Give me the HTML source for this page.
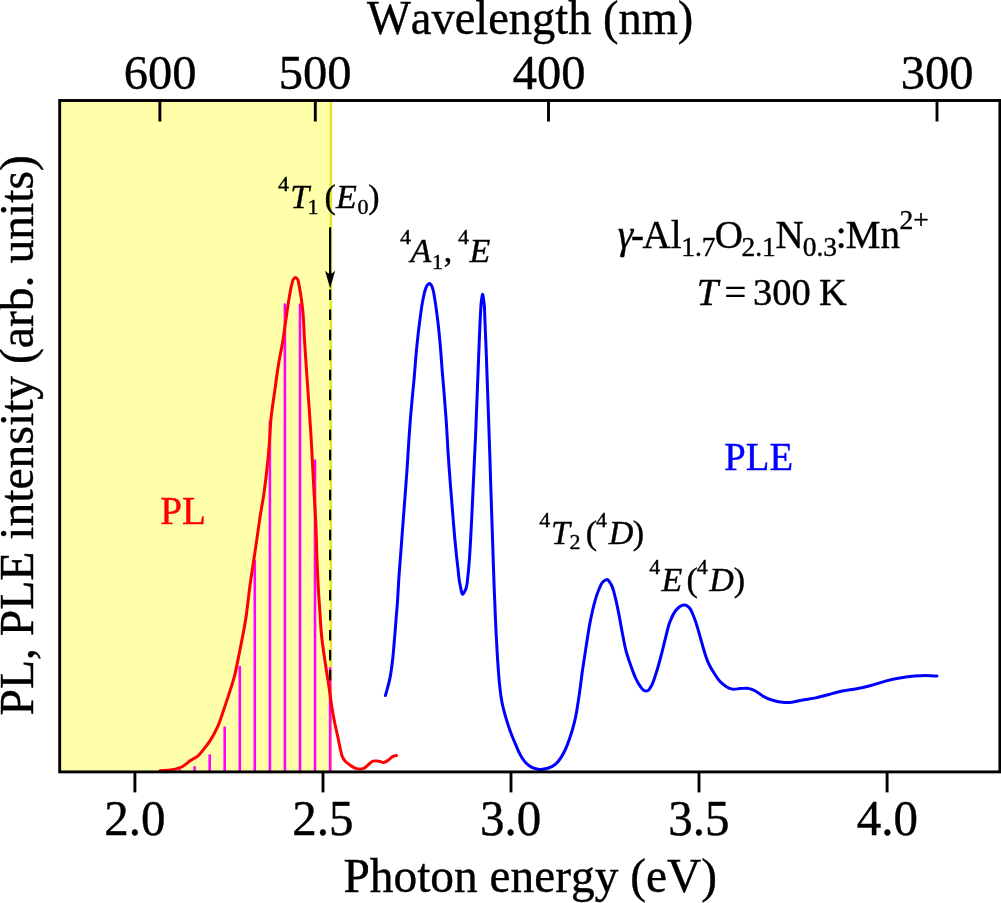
<!DOCTYPE html>
<html><head><meta charset="utf-8"><title>PL, PLE spectra</title>
<style>
html,body{margin:0;padding:0;background:#fff}
svg{display:block}
text{font-family:"Liberation Serif",serif;fill:#000;stroke:#000;stroke-width:.4px;font-kerning:none}
.i{font-style:italic}
</style></head><body>
<svg width="1001" height="903" viewBox="0 0 1001 903">
<rect width="1001" height="903" fill="#fff"/>
<rect x="59.7" y="100.5" width="271.8" height="671.4" fill="#ffffaa"/>
<line x1="330.9" y1="100.5" x2="330.9" y2="771.9" stroke="#e6e61e" stroke-width="2.5"/>
<g stroke="#ff00ff" stroke-width="2.6"><line x1="179.6" y1="769.4" x2="179.6" y2="771.9"/><line x1="194.6" y1="766.2" x2="194.6" y2="771.9"/><line x1="209.7" y1="754.4" x2="209.7" y2="771.9"/><line x1="224.7" y1="726.5" x2="224.7" y2="771.9"/><line x1="239.8" y1="665.9" x2="239.8" y2="771.9"/><line x1="254.8" y1="560.0" x2="254.8" y2="771.9"/><line x1="269.9" y1="420.8" x2="269.9" y2="771.9"/><line x1="284.9" y1="303.4" x2="284.9" y2="771.9"/><line x1="300.0" y1="303.4" x2="300.0" y2="771.9"/><line x1="315.0" y1="459.6" x2="315.0" y2="771.9"/><line x1="330.1" y1="667.3" x2="330.1" y2="771.9"/></g>
<line x1="330.1" y1="289.6" x2="330.1" y2="681.6" stroke="#000" stroke-width="2.2" stroke-dasharray="10.5 9.52"/>
<line x1="330.1" y1="227.3" x2="330.1" y2="277" stroke="#000" stroke-width="2.2"/>
<path d="M330.1 288.6L325.1 270.8Q330.1 276.5 335.1 270.8Z" fill="#000"/>
<path d="M160.0 770.8C164.0 770.5 168.1 770.6 172.0 769.8C175.8 769.0 179.7 768.1 183.0 766.2C185.5 764.8 187.6 762.5 190.0 760.8C192.6 759.0 195.6 757.8 198.0 755.8C200.3 753.8 202.1 751.3 204.0 748.9C206.1 746.3 208.2 743.7 210.0 740.9C213.1 736.2 215.7 731.1 218.0 725.9C220.4 720.4 222.0 714.6 224.0 708.9C226.1 702.9 228.1 696.9 230.0 690.9C231.4 686.6 232.8 682.3 234.0 677.9C235.6 672.0 236.7 665.9 238.0 659.9C239.5 652.6 240.9 645.3 242.3 638.0C243.6 631.3 244.9 624.7 245.9 618.0C246.8 612.0 247.5 606.0 248.2 600.0C248.6 596.6 249.0 593.2 249.4 589.8C250.2 583.2 251.3 576.5 252.3 569.9C253.5 561.9 254.7 553.9 255.9 545.9C257.3 536.6 258.5 527.2 259.9 517.9C261.1 509.9 262.7 501.9 263.9 493.9C265.5 482.6 266.8 471.3 267.9 460.0C268.6 453.3 269.1 446.5 269.6 439.8C270.1 433.1 270.3 426.4 270.9 419.8C271.8 409.8 273.5 399.9 274.9 389.9C276.2 380.6 277.3 371.2 278.9 361.9C279.9 355.9 281.3 349.9 282.3 343.9C283.7 335.9 284.7 327.9 285.9 319.9C287.1 311.9 288.0 303.9 289.5 296.0C290.2 292.0 290.7 287.9 291.9 284.0C292.4 282.2 292.4 280.0 293.7 278.8C294.2 278.3 294.9 277.6 295.5 277.6C296.1 277.6 296.9 278.4 297.4 279.0C298.6 280.3 298.5 282.7 298.9 284.5C299.8 288.3 300.3 292.2 300.9 296.0C301.7 301.3 302.4 306.6 302.9 311.9C303.8 321.2 303.9 330.6 304.5 339.9C305.0 348.6 305.6 357.2 306.2 365.9C306.9 375.9 307.6 385.9 308.3 395.9C309.1 407.6 310.0 419.3 310.7 431.0C311.3 440.7 311.8 450.3 312.3 460.0C312.8 470.0 313.4 479.9 313.9 489.9C314.6 501.9 315.4 513.9 315.9 525.9C316.4 537.2 316.5 548.6 317.0 559.9C317.4 569.9 317.8 579.8 318.4 589.8C318.8 597.2 319.4 604.6 319.9 612.0C320.4 619.3 320.7 626.7 321.4 634.0C322.3 643.8 323.9 653.6 325.3 663.3C326.4 670.5 327.6 677.8 328.7 685.0C329.8 692.2 330.6 699.5 331.8 706.7C332.7 712.4 333.8 718.1 334.9 723.7C335.9 728.4 337.0 733.0 338.0 737.7C338.9 741.8 339.6 746.0 340.6 750.1C341.1 752.2 341.4 754.4 342.2 756.3C342.9 757.9 343.9 759.5 345.0 760.9C346.3 762.4 348.0 763.6 349.6 764.8C351.5 766.2 353.6 767.8 355.8 768.4C358.2 769.1 361.3 769.3 363.6 768.4C365.3 767.7 366.7 766.0 368.2 764.8C369.8 763.6 371.1 761.8 372.9 761.2C374.7 760.6 377.1 760.9 379.1 761.2C380.7 761.4 382.2 762.6 383.7 762.5C385.6 762.4 387.4 760.5 389.1 759.4C390.7 758.3 392.0 756.6 393.8 756.0C394.6 755.7 395.5 755.7 396.4 755.5" fill="none" stroke="#ff0000" stroke-width="3" stroke-linejoin="round" stroke-linecap="round"/>
<path d="M385.4 695.5C385.9 693.6 386.5 691.8 387.0 689.9C388.1 685.9 389.2 681.9 390.0 677.9C391.2 672.0 391.9 665.9 392.6 659.9C393.4 653.3 393.8 646.6 394.4 640.0C395.0 633.3 395.5 626.7 396.0 620.0C396.5 613.3 397.2 606.7 397.6 600.0C397.9 595.3 398.1 590.5 398.4 585.8C399.1 573.8 400.1 561.9 401.0 549.9C402.0 536.6 403.0 523.2 404.0 509.9C405.0 496.6 406.1 483.3 407.0 470.0C407.9 456.7 408.6 443.3 409.6 430.0C410.0 423.9 410.5 417.9 411.0 411.8C411.9 401.2 413.0 390.5 414.0 379.9C415.0 368.6 415.7 357.2 416.9 345.9C417.8 337.2 418.7 328.5 419.9 319.9C420.8 313.3 421.5 306.6 422.9 300.0C423.8 296.0 424.2 291.7 425.9 288.0C426.4 286.8 426.8 285.4 427.7 284.6C428.2 284.2 428.8 283.6 429.3 283.6C429.8 283.6 430.5 284.2 430.9 284.6C431.8 285.4 432.0 286.8 432.5 288.0C434.0 291.8 434.2 296.0 434.9 300.0C436.2 307.3 437.0 314.6 437.9 321.9C438.9 329.9 439.6 337.9 440.3 345.9C441.1 354.6 441.6 363.2 442.3 371.9C442.9 379.9 443.7 387.9 444.3 395.9C445.0 404.6 445.7 413.3 446.3 422.0C447.1 433.3 447.5 444.7 448.3 456.0C449.0 466.0 449.7 475.9 450.5 485.9C451.3 495.9 452.1 505.9 452.9 515.9C453.7 525.9 454.5 535.9 455.5 545.9C456.2 553.2 457.0 560.6 457.9 567.9C458.6 573.9 458.8 580.0 460.3 585.8C461.0 588.6 461.6 594.8 462.9 594.2C463.6 593.9 464.8 591.3 465.5 589.8C467.5 585.6 467.3 580.5 467.9 575.8C468.7 569.9 469.0 563.9 469.5 557.9C470.1 549.9 470.5 541.9 470.9 533.9C471.4 524.6 471.9 515.2 472.3 505.9C472.7 497.2 473.1 488.6 473.5 479.9C473.9 471.3 474.3 462.6 474.7 454.0C475.0 447.7 475.3 441.3 475.6 435.0C475.9 427.3 476.2 419.5 476.5 411.8C477.0 399.8 477.4 387.9 477.9 375.9C478.4 363.9 478.8 351.9 479.3 339.9C479.7 331.2 480.0 322.6 480.5 313.9C480.8 309.3 480.8 304.6 481.5 300.0C481.8 298.1 482.2 294.7 482.5 294.4C483.0 294.0 483.5 299.5 483.9 302.0C484.8 307.9 484.6 313.9 484.9 319.9C485.3 327.9 485.6 335.9 485.9 343.9C486.3 353.2 486.6 362.6 486.9 371.9C487.2 381.2 487.6 390.6 487.9 399.9C488.2 409.3 488.6 418.6 488.9 428.0C489.2 438.0 489.6 448.0 489.9 458.0C490.2 468.6 490.6 479.3 490.9 489.9C491.2 499.9 491.6 509.9 491.9 519.9C492.2 529.9 492.6 539.9 492.9 549.9C493.2 559.9 493.5 569.8 493.9 579.8C494.1 586.5 494.4 593.3 494.7 600.0C495.0 606.7 495.2 613.3 495.5 620.0C495.8 626.7 496.1 633.3 496.5 640.0C496.9 648.0 497.3 655.9 497.9 663.9C498.4 670.6 498.8 677.3 499.5 683.9C500.1 689.9 500.7 696.0 501.9 701.9C502.9 707.3 504.4 712.6 505.9 717.9C507.4 723.0 509.1 728.0 510.9 732.9C512.4 736.9 514.1 740.9 515.8 744.9C517.4 748.6 518.8 752.4 520.8 755.8C522.3 758.2 523.8 760.8 525.8 762.8C527.5 764.6 529.6 766.3 531.8 767.4C534.2 768.6 537.1 769.3 539.8 769.4C542.4 769.5 545.3 769.0 547.8 768.2C550.2 767.4 552.8 766.3 554.8 764.8C557.2 763.0 559.1 760.3 560.8 757.8C562.8 754.9 564.3 751.7 565.8 748.5C567.3 745.3 568.4 741.9 569.6 738.5C570.7 735.4 571.7 732.2 572.6 729.0C573.6 725.5 574.5 722.0 575.3 718.4C576.9 711.2 577.9 703.7 579.0 696.4C580.4 687.5 581.3 678.5 582.6 669.6C583.8 661.5 585.0 653.4 586.3 645.3C587.5 638.0 588.5 630.6 589.9 623.3C591.0 617.6 592.1 611.9 593.6 606.3C595.0 601.0 596.3 595.5 598.5 590.5C599.8 587.6 600.6 583.9 602.9 581.9C604.1 580.9 605.8 579.4 607.0 579.5C608.6 579.6 610.0 582.6 611.1 584.4C613.3 587.9 613.9 592.4 615.0 596.5C616.8 602.9 617.9 609.5 619.2 616.0C620.5 622.5 621.5 629.0 622.8 635.5C624.0 641.2 624.9 647.0 626.5 652.6C627.9 657.5 629.6 662.4 631.4 667.2C632.9 671.3 634.2 675.5 636.2 679.4C637.6 682.2 639.1 685.1 641.1 687.5C641.9 688.4 642.6 689.6 643.6 690.2C644.3 690.6 645.2 691.1 646.0 691.1C646.8 691.1 647.7 690.6 648.4 690.2C649.6 689.4 650.1 687.9 650.9 686.7C653.2 683.0 654.3 678.6 655.7 674.5C657.6 668.9 659.1 663.2 660.6 657.5C662.4 651.0 663.8 644.5 665.5 638.0C667.0 632.3 668.0 626.3 670.3 620.9C671.7 617.6 673.0 614.0 675.2 611.2C676.6 609.4 678.1 607.3 680.1 606.3C681.5 605.6 683.5 604.9 685.0 605.1C686.4 605.3 687.9 606.5 689.1 607.5C691.4 609.5 692.2 613.1 693.5 616.0C695.6 620.7 696.9 625.8 698.4 630.7C700.1 636.3 701.5 642.1 703.2 647.7C704.7 652.6 706.0 657.6 708.1 662.3C709.8 666.1 711.9 669.8 714.2 673.3C716.1 676.2 717.9 679.3 720.3 681.8C722.1 683.6 724.2 685.4 726.4 686.7C728.3 687.8 730.4 688.7 732.5 689.1C734.8 689.5 737.4 688.8 739.8 688.6C742.2 688.5 744.7 687.9 747.1 688.2C749.2 688.5 751.3 689.1 753.2 689.9C755.6 690.9 757.8 692.5 760.0 694.0C761.1 694.7 762.1 695.5 763.2 696.2C766.1 698.0 769.4 699.3 772.7 700.3C775.8 701.3 779.1 701.9 782.3 702.2C785.5 702.5 788.7 702.5 791.9 702.2C795.1 701.9 798.3 700.9 801.5 700.3C806.3 699.4 811.1 698.9 815.9 697.9C819.9 697.0 823.9 695.8 827.9 694.8C832.7 693.5 837.4 692.0 842.3 691.0C847.0 690.0 851.9 689.7 856.7 688.8C861.5 687.9 866.3 686.8 871.0 685.5C875.8 684.2 880.5 682.4 885.4 681.1C890.1 679.9 895.0 678.8 899.8 678.0C904.6 677.2 909.4 676.5 914.2 676.1C918.2 675.8 922.2 675.6 926.2 675.6C929.8 675.6 933.4 675.9 937.0 676.1" fill="none" stroke="#0000ff" stroke-width="3" stroke-linejoin="round" stroke-linecap="round"/>
<g stroke="#000" stroke-width="2.9"><line x1="134.9" y1="771.9" x2="134.9" y2="792.4"/><line x1="323.0" y1="771.9" x2="323.0" y2="792.4"/><line x1="511.0" y1="771.9" x2="511.0" y2="792.4"/><line x1="699.0" y1="771.9" x2="699.0" y2="792.4"/><line x1="887.1" y1="771.9" x2="887.1" y2="792.4"/><line x1="159.9" y1="100.5" x2="159.9" y2="121.5"/><line x1="315.3" y1="100.5" x2="315.3" y2="121.5"/><line x1="548.5" y1="100.5" x2="548.5" y2="121.5"/><line x1="937.0" y1="100.5" x2="937.0" y2="121.5"/></g>
<rect x="59.7" y="100.5" width="940.2" height="671.4" fill="none" stroke="#000" stroke-width="2.9"/>
<text transform="translate(366.94 33.8) scale(0.9580 1)" font-size="48.5" style="fill:#000;stroke:#000">Wavelength (nm)</text>
<text transform="translate(343.41 892.4) scale(0.9871 1)" font-size="48" style="fill:#000;stroke:#000">Photon energy (eV)</text>
<text transform="translate(160.26 524.0) scale(0.9919 1)" font-size="39.5" style="fill:#ff0000;stroke:#ff0000">PL</text>
<text transform="translate(724.26 470.0) scale(0.9874 1)" font-size="39.2" style="fill:#0000ff;stroke:#0000ff">PLE</text>
<text transform="translate(33.4 715.48) rotate(-90) scale(0.9811 1)" font-size="48.5">PL, PLE intensity (arb. units)</text>
<text transform="translate(104.17 835.2) scale(1 1.02)" font-size="49">2.0</text>
<text transform="translate(292.21 835.2) scale(1 1.02)" font-size="49">2.5</text>
<text transform="translate(480.12 835.2) scale(1 1.02)" font-size="49">3.0</text>
<text transform="translate(668.16 835.2) scale(1 1.02)" font-size="49">3.5</text>
<text transform="translate(856.83 835.2) scale(1 1.02)" font-size="49">4.0</text>
<text transform="translate(123.79 89.2) scale(1 1.02)" font-size="48.5">600</text>
<text transform="translate(278.84 89.2) scale(1 1.02)" font-size="48.5">500</text>
<text transform="translate(512.85 89.2) scale(1 1.02)" font-size="48.5">400</text>
<text transform="translate(900.79 89.2) scale(1 1.02)" font-size="48.5">300</text>
<text><tspan x="278.05" y="190.8" font-size="22">4</tspan><tspan x="290.18" y="207.6" font-size="34" class="i">T</tspan><tspan x="307.62" y="214.4" font-size="22">1</tspan><tspan x="324.62" y="207.6" font-size="34">(</tspan><tspan x="335.93" y="207.6" font-size="34" class="i">E</tspan><tspan x="357.40" y="214.4" font-size="22">0</tspan><tspan x="368.32" y="207.6" font-size="34">)</tspan></text>
<text><tspan x="400.00" y="244.4" font-size="22">4</tspan><tspan x="410.55" y="261.8" font-size="34" class="i">A</tspan><tspan x="431.93" y="268.9" font-size="22">1</tspan><tspan x="443.77" y="261.8" font-size="34">,</tspan><tspan x="458.00" y="244.4" font-size="22">4</tspan><tspan x="469.52" y="261.8" font-size="34" class="i">E</tspan></text>
<text><tspan x="539.20" y="526.6" font-size="22">4</tspan><tspan x="551.08" y="543.8" font-size="34" class="i">T</tspan><tspan x="569.58" y="549.4" font-size="22">2</tspan><tspan x="585.83" y="543.8" font-size="34">(</tspan><tspan x="596.10" y="526.6" font-size="22">4</tspan><tspan x="608.75" y="543.8" font-size="34" class="i">D</tspan><tspan x="632.83" y="543.8" font-size="34">)</tspan></text>
<text><tspan x="649.30" y="573.5" font-size="22">4</tspan><tspan x="661.42" y="590.8" font-size="34" class="i">E</tspan><tspan x="686.42" y="590.8" font-size="34">(</tspan><tspan x="696.85" y="573.5" font-size="22">4</tspan><tspan x="709.25" y="590.8" font-size="34" class="i">D</tspan><tspan x="733.83" y="590.8" font-size="34">)</tspan></text>
<text><tspan x="617.65" y="248.2" font-size="39" class="i">γ</tspan><tspan x="630.98" y="248.2" font-size="39">-</tspan><tspan x="642.55" y="248.2" font-size="39">Al</tspan><tspan x="681.15" y="255.5" font-size="27.5">1.7</tspan><tspan x="714.85" y="248.2" font-size="39">O</tspan><tspan x="741.40" y="255.5" font-size="27.5">2.1</tspan><tspan x="775.58" y="248.2" font-size="39">N</tspan><tspan x="802.67" y="255.5" font-size="27.5">0.3</tspan><tspan x="835.73" y="248.2" font-size="39">:</tspan><tspan x="845.77" y="248.2" font-size="39">Mn</tspan><tspan x="899.42" y="229.3" font-size="27.5">2+</tspan></text>
<text><tspan x="696.67" y="305.1" font-size="38.5" class="i">T</tspan><tspan x="724.38" y="305.1" font-size="38.5">=</tspan><tspan x="752.95" y="305.1" font-size="38.5">300</tspan><tspan x="818.95" y="305.1" font-size="38.5">K</tspan></text>
</svg>
</body></html>
